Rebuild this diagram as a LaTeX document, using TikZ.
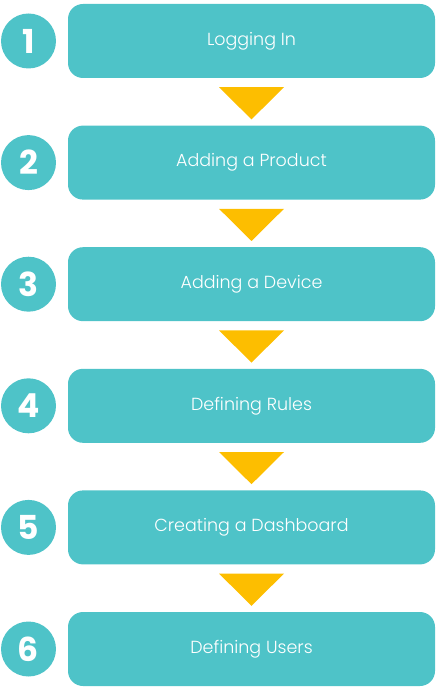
\documentclass[tikz,border=0pt]{standalone}
\usepackage{fontspec}
\setmainfont{Poppins}[UprightFont={* Light}, BoldFont={* Bold}]
\definecolor{turquoise}{HTML}{4EC3C8}
\definecolor{jaune}{HTML}{FDBE00}

\tikzset{
  boite/.style={fill=turquoise, rounded corners=15pt, minimum width=367pt,
    minimum height=74pt, text=white, font=\fontsize{17.5}{20}\selectfont},
  pastille/.style={circle, fill=turquoise, minimum size=55pt, inner sep=0pt,
    text=white, font=\fontsize{33}{36}\selectfont\bfseries},
}
\newcommand\ETEtape[3] {
  \node[pastille] (n#1) at (28.5, #2) {#1} ;
  \node[boite] (e#1) at (251.5, #2) {#3} ;
}
\newcommand\ETFleche[2] {
  \fill[jaune]
     ([shift={(-32.5, 9)}]e#1.south)
     -- ([shift={(32.5, 9)}]e#1.south)
     -- ([shift={(0, -6)}]e#2.north)
     -- cycle ;
}

\begin{document}
\begin{tikzpicture}[x=1pt, y=-1pt]
   \useasboundingbox (0, 0) rectangle (440, 692) ;
   \ETEtape{1}{41}{Logging In}
   \ETEtape{2}{162.6}{Adding a Product}
   \ETEtape{3}{284.2}{Adding a Device}
   \ETEtape{4}{405.8}{Defining Rules}
   \ETEtape{5}{527.4}{Creating a Dashboard}
   \ETEtape{6}{649}{Defining Users}
   \ETFleche{1}{2}
   \ETFleche{2}{3}
   \ETFleche{3}{4}
   \ETFleche{4}{5}
   \ETFleche{5}{6}
\end{tikzpicture}
\end{document}
